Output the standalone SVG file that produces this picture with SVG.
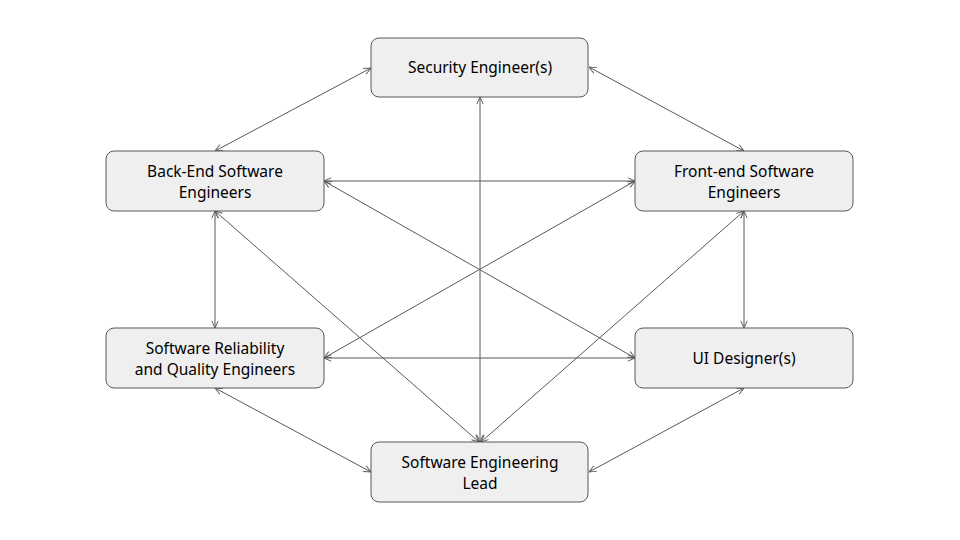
<svg xmlns="http://www.w3.org/2000/svg" width="960" height="540" viewBox="0 0 960 540">
<style>
.n rect{fill:#efefef;stroke:#595959;stroke-width:1}
.n text{font-family:"Noto Sans","Liberation Sans",sans-serif;font-size:15.5px;fill:#000;text-anchor:middle}
#c line{stroke:#595959;stroke-width:1;fill:none;marker-start:url(#a);marker-end:url(#a)}
</style>
<defs>
<marker id="a" viewBox="0 0 10 10" refX="10" refY="5" markerWidth="8" markerHeight="8" orient="auto-start-reverse" markerUnits="userSpaceOnUse">
<path d="M1,1 L10,5 L1,9" fill="none" stroke="#595959" stroke-width="1.2"/>
</marker>
</defs>
<rect width="960" height="540" fill="#fff"/>
<g id="c">
<line x1="371" y1="68" x2="215" y2="151"/>
<line x1="589" y1="67" x2="744" y2="151"/>
<line x1="480" y1="97" x2="480" y2="442"/>
<line x1="324" y1="181" x2="635" y2="181"/>
<line x1="215" y1="211" x2="215" y2="328"/>
<line x1="324" y1="181" x2="635" y2="358"/>
<line x1="215" y1="211" x2="479" y2="442"/>
<line x1="635" y1="181" x2="324" y2="358"/>
<line x1="744" y1="211" x2="744" y2="328"/>
<line x1="744" y1="211" x2="481" y2="442"/>
<line x1="324" y1="358" x2="635" y2="358"/>
<line x1="215" y1="388" x2="371" y2="472"/>
<line x1="744" y1="388" x2="589" y2="472"/>
</g>
<g id="security" class="n"><rect x="371" y="38" width="217" height="59" rx="8"/><text x="480" y="73">Security Engineer(s)</text></g>
<g id="backend" class="n"><rect x="106" y="151" width="218" height="60" rx="8"/><text x="215" y="177">Back-End Software</text><text x="215" y="198">Engineers</text></g>
<g id="frontend" class="n"><rect x="635" y="151" width="218" height="60" rx="8"/><text x="744" y="177">Front-end Software</text><text x="744" y="198">Engineers</text></g>
<g id="reliability" class="n"><rect x="106" y="328" width="218" height="60" rx="8"/><text x="215" y="354">Software Reliability</text><text x="215" y="375">and Quality Engineers</text></g>
<g id="ui" class="n"><rect x="635" y="328" width="218" height="60" rx="8"/><text x="744" y="364">UI Designer(s)</text></g>
<g id="lead" class="n"><rect x="371" y="442" width="217" height="60" rx="8"/><text x="480" y="468">Software Engineering</text><text x="480" y="489">Lead</text></g>
</svg>
